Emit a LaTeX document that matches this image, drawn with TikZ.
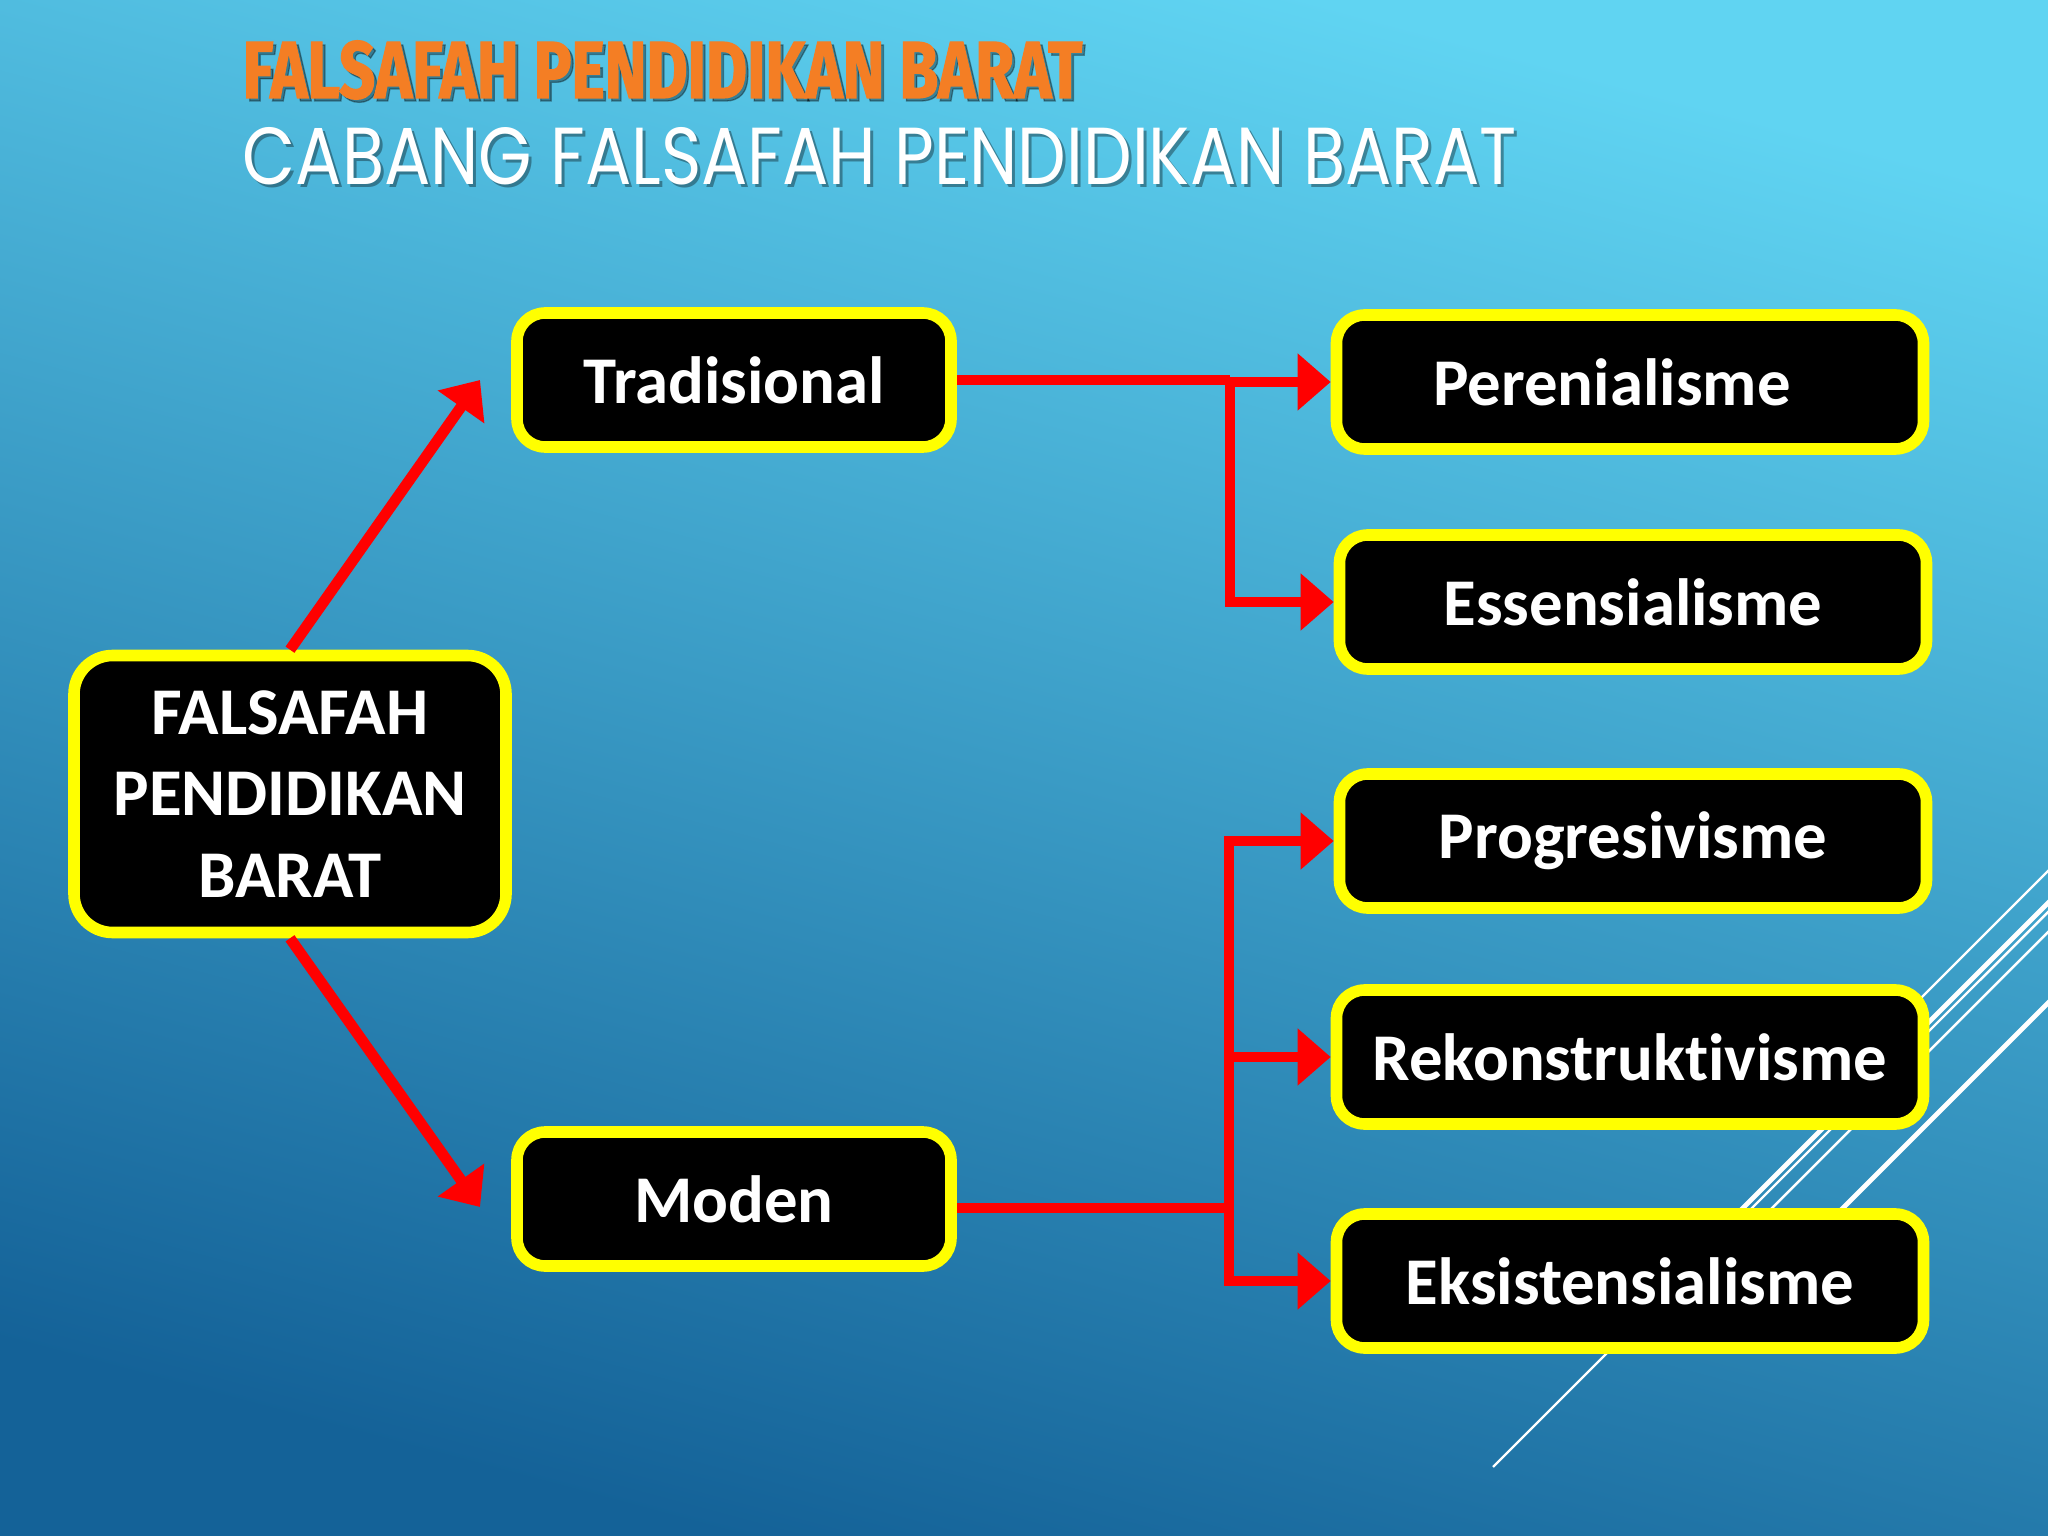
\documentclass[tikz,border=0pt]{standalone}
\usepackage{fontspec}
\setmainfont{Carlito}[Ligatures=NoCommon]
\newfontfamily\titlefont[FakeStretch=0.85]{Poppins}
\newfontfamily\headfont[FakeStretch=0.78, FakeBold=1.6]{Fira Sans}
\usetikzlibrary{arrows.meta}
\definecolor{skytop}{RGB}{96,212,242}
\definecolor{skymid}{RGB}{56,158,206}
\definecolor{skybot}{RGB}{20,98,152}
\definecolor{boxline}{RGB}{255,255,0}
\definecolor{linkred}{RGB}{255,0,0}
\definecolor{headorange}{RGB}{244,126,36}
\tikzset{
        branch/.style={draw=boxline, line width=3.3pt, fill=black, rounded corners=8pt, text=white, inner sep=0pt, font=\fontsize{19}{22}\selectfont\bfseries},
        leftbox/.style={branch, minimum width=4.34cm, minimum height=1.34cm},
        rightbox/.style={branch, minimum width=5.87cm, minimum height=1.34cm},
        rootbox/.style={branch, minimum width=4.32cm, minimum height=2.77cm, rounded corners=11pt, align=center, font=\fontsize{19}{23.2}\selectfont\bfseries},
        link/.style={draw=linkred, line width=3.1pt},
        linkarrow/.style={link, -{Triangle[length=0.33cm, width=0.55cm]}},
        slicethin/.style={draw=white, line width=0.7pt},
        slicethick/.style={draw=white, line width=1.4pt},
        heading/.style={anchor=base west, inner sep=0pt},
        headshadow/.style={heading, text=black, opacity=0.35}
          }

\begin{document}
\begin{tikzpicture}
        \useasboundingbox (0,0) rectangle (20.48,-15.36);
        \shade[top color=skytop, middle color=skymid, bottom color=skybot, shading angle=-15] (0,0) rectangle (20.48,-15.36);

        % slice lines at the right
        \begin{scope}
          \clip (0,0) rectangle (20.48,-15.36);
          \draw[slicethin] (18.69,-10.50) -- (20.60,-8.59);
          \draw[slicethick] (17.01,-12.50) -- (20.60,-8.91);
          \draw[slicethin] (14.93,-14.67) -- (20.60,-9.00);
          \draw[slicethin] (17.30,-12.50) -- (20.60,-9.20);
          \draw[slicethick] (18.01,-12.50) -- (20.60,-9.91);
        \end{scope}

        % headings
        \node[headshadow, font=\headfont\fontsize{23}{26}\selectfont\bfseries] (headsh) at (2.45,-1.01) {FALSAFAH PENDIDIKAN BARAT};
        \node[heading, text=headorange, font=\headfont\fontsize{23}{26}\selectfont\bfseries] (head) at (2.42,-0.98) {FALSAFAH PENDIDIKAN BARAT};
        \node[headshadow, font=\titlefont\fontsize{23}{26}\selectfont] (titlesh) at (2.45,-1.88) {CABANG FALSAFAH PENDIDIKAN BARAT};
        \node[heading, text=white, font=\titlefont\fontsize{23}{26}\selectfont] (title) at (2.42,-1.85) {CABANG FALSAFAH PENDIDIKAN BARAT};

        % boxes
        \node[rootbox] (root) at (2.90,-7.94) {FALSAFAH\\PENDIDIKAN\\BARAT};
        \node[leftbox] (trad) at (7.34,-3.80) {Tradisional};
        \node[leftbox] (moden) at (7.34,-11.99) {Moden};
        \node[rightbox] (per) at (16.30,-3.82) {Perenialisme\kern0.36cm};
        \node[rightbox] (ess) at (16.33,-6.02) {Essensialisme};
        \node[rightbox] (pro) at (16.33,-8.41) {Progresivisme};
        \node[rightbox] (rek) at (16.30,-10.57) {Rekonstruktivisme};
        \node[rightbox] (eks) at (16.30,-12.81) {Eksistensialisme};

        % connectors
        \coordinate (tradtip) at (4.80,-3.80);
        \coordinate (modtip) at (4.80,-12.07);
        \draw[linkarrow] (root.north) -- (tradtip);
        \draw[linkarrow] (root.south) -- (modtip);

        \coordinate (tradjoin) at (12.30,-3.80);
        \draw[link] (trad.east) -- (tradjoin);
        \draw[linkarrow] (tradjoin) |- (per.west);
        \draw[linkarrow] (tradjoin) |- (ess.west);

        \coordinate (modjoin) at (12.29,-12.08);
        \draw[link] (moden.east |- modjoin) -- (modjoin);
        \draw[linkarrow] (modjoin) |- (pro.west);
        \draw[linkarrow] (modjoin) |- (rek.west);
        \draw[linkarrow] (modjoin) |- (eks.west);
\end{tikzpicture}
\end{document}
